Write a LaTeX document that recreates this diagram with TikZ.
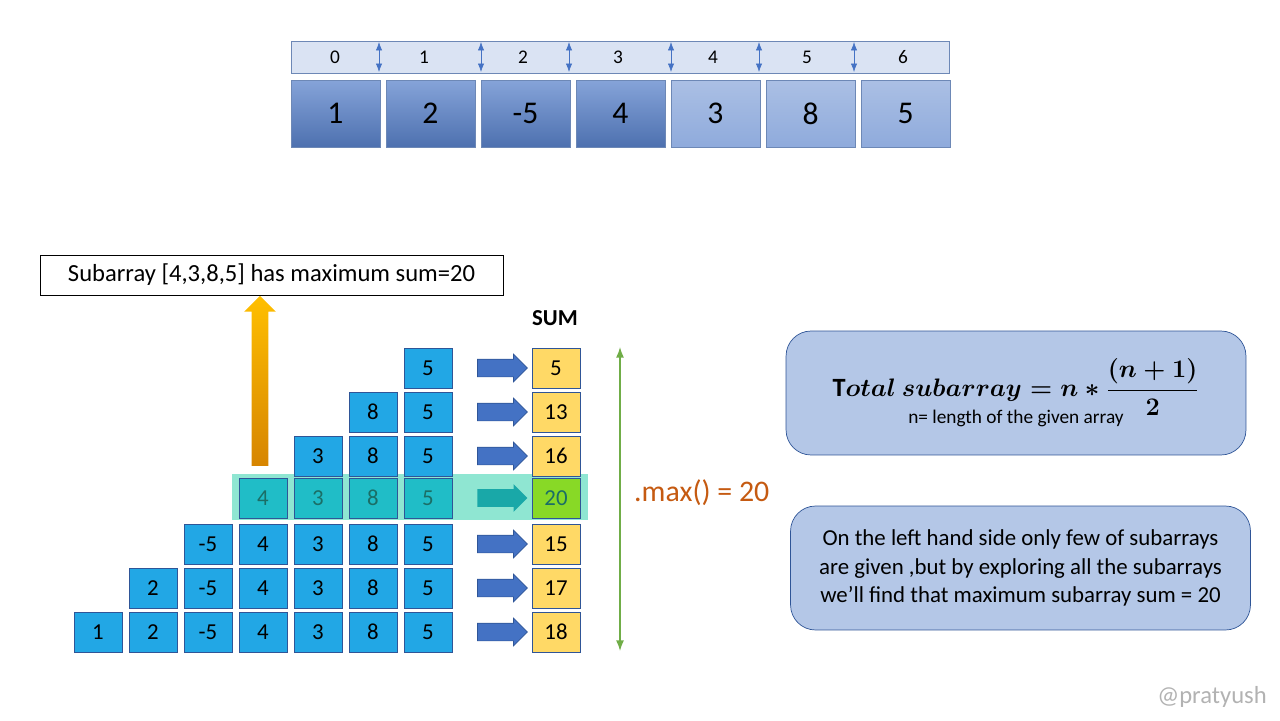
\documentclass[tikz,border=0pt]{standalone}
\usepackage{amsmath}
\usepackage{fontspec}
\setmainfont{Carlito}
\usepackage{tikz}
\usetikzlibrary{arrows.meta,shapes.arrows,positioning,calc}
\definecolor{cellblue}{HTML}{22A7E5}
\definecolor{celledge}{HTML}{2F5597}
\definecolor{sumfill}{HTML}{FFD966}
\definecolor{boxfill}{HTML}{B4C7E7}
\definecolor{idxfill}{HTML}{DAE3F3}
\definecolor{arrblue}{HTML}{4472C4}
\definecolor{maxorange}{HTML}{C55A11}
\definecolor{hlfill}{HTML}{8FE6D2}
\definecolor{hcellfill}{HTML}{20BDC7}
\definecolor{hltext}{HTML}{1B6E66}
\definecolor{maxgreen}{HTML}{70AD47}
\tikzset{
  cell/.style={draw=celledge, fill=cellblue, minimum width=0.96cm, minimum height=0.8cm, inner sep=0pt, font=\fontsize{13}{13}\selectfont},
  hcell/.style={cell, fill=hcellfill, text=hltext},
  sumcell/.style={cell, fill=sumfill},
  topcell/.style={draw=celledge!70, minimum width=1.78cm, minimum height=1.34cm, inner sep=0pt, font=\fontsize{18}{18}\selectfont},
  rarrow/.style={single arrow, fill=arrblue, draw=celledge, inner sep=0.17cm, single arrow head extend=0.1cm, minimum height=1cm},
  infobox/.style={draw=celledge, fill=boxfill, rounded corners=0.5cm, minimum width=9.2cm, minimum height=2.48cm, align=center}
}
\begin{document}
\begin{tikzpicture}[x=0.02cm,y=-0.02cm]
\useasboundingbox (0,0) rectangle (1280,720);

% index bar
\node[draw=celledge!70, fill=idxfill, minimum width=13.16cm, minimum height=0.64cm, inner sep=0pt] (idx) at (620,57) {};
\foreach \i/\x in {0/335,1/424,2/523,3/618,4/713,5/807,6/903}
  \node[font=\fontsize{11}{11}\selectfont] (i\i) at (\x,57) {\i};
\foreach \x in {379,481,569,671,759,854}
  \draw[arrblue, Latex-Latex, thin] (\x,42) -- (\x,72);

% input array
\foreach \v [count=\k from 0] in {1,2,-5,4} {
  \node[topcell, top color=arrblue!65!white, bottom color=arrblue!85!black!90] (a\k) at (335.5+95*\k,113.5) {\v};
}
\foreach \v [count=\k from 4] in {3,8,5} {
  \node[topcell, top color=arrblue!45!white, bottom color=arrblue!60!white] (a\k) at (335.5+95*\k,113.5) {\v};
}

% subarray rows
\node[fill=hlfill, minimum width=7.12cm, minimum height=0.92cm, inner sep=0pt] (hl) at (410,497) {};
\foreach \r/\sum in {0/5,1/13,2/16,4/15,5/17,6/18} {
  \foreach \c in {0,...,6} {
    \pgfmathtruncatemacro\s{6-\r}
    \ifnum\c<\s\relax\else
      \pgfmathtruncatemacro\val{{1,2,-5,4,3,8,5}[\c]}
      \node[cell] (c\r-\c) at (98+55*\c,368+44*\r) {\val};
    \fi
  }
  \node[sumcell] (s\r) at (556,368+44*\r) {\sum};
  \node[rarrow] (r\r) at (498,368+44*\r) {};
}
\foreach \v [count=\c from 3] in {4,3,8,5}
  \node[hcell] (c3-\c) at (98+55*\c,498) {\v};
\node[sumcell, fill=green!45!yellow!70!gray, text=hltext] (s3) at (556,498) {20};
\node[rarrow, fill=teal!60!cyan!80!gray, draw=none] (r3) at (498,498) {};

\node[font=\bfseries\fontsize{13}{13}\selectfont] (sum) at (555,318) {SUM};

% max marker
\coordinate (top) at (620,347);
\coordinate (bot) at (620,651);
\draw[maxgreen, thick, {Latex[length=6pt]}-{Latex[length=6pt]}] (top) -- (bot);
\node[text=maxorange, font=\fontsize{17}{17}\selectfont, anchor=west] (max) at (628,493) {.max() = 20};

% result arrow and label
\node[single arrow, shape border rotate=90, draw=none, top color=orange!50!yellow, bottom color=orange!80!black!80!yellow,
  minimum height=3.4cm, single arrow head extend=0.15cm, inner sep=0.16cm] (up) at (260,385) {};
\node[draw, fill=white, minimum width=9.26cm, minimum height=0.8cm, font=\fontsize{14}{14}\selectfont] (res) at (271.5,275) {Subarray [4,3,8,5] has maximum sum=20};

% info boxes
\node[infobox] (formula) at (1016,393) {{\fontsize{15}{15}\selectfont $\boldsymbol{\mathrm{T}otal\ subarray = n * \dfrac{(n+1)}{2}}$}\\[-4pt]{\fontsize{11}{11}\selectfont n= length of the given array}};
\node[infobox, font=\fontsize{13}{16}\selectfont] (note) at (1020.5,568) {On the left hand side only few of subarrays\\ are given ,but by exploring all the subarrays\\ we’ll find that maximum subarray sum = 20};

\node[text=gray!60, font=\fontsize{14}{14}\selectfont] (sig) at (1212,697) {@pratyush};
\end{tikzpicture}
\end{document}
